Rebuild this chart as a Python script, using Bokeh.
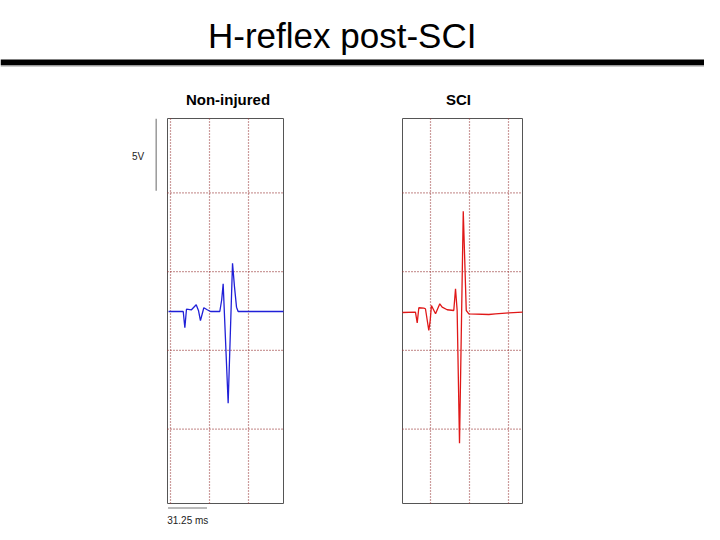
from bokeh.plotting import figure
from bokeh.models import Range1d
from bokeh.core.properties import value
from bokeh.embed import file_html
from bokeh.resources import INLINE

# ---------------- data ----------------
title_text = "H-reflex post-SCI"
panel_titles = ["Non-injured", "SCI"]
scale_v_label = "5V"
scale_t_label = "31.25 ms"
scale_v = 5.0       # volts
scale_t = 31.25     # ms

noninjured_t = [-1.6, 10.2, 11.5, 12.8, 16.8, 20.6, 22.4, 24.0, 26.7, 29.4, 32.1,
                39.5, 41.0, 42.2, 46.2, 49.7, 51.3, 52.9, 54.2, 90.5]
noninjured_v = [0.0, 0.0, -1.13, 0.16, 0.12, 0.47, 0.07, -0.63, 0.26, 0.12, 0.0,
                0.0, 0.8, 1.92, -6.37, 3.35, 1.69, 0.30, 0.0, 0.0]

sci_t = [8.8, 19.2, 20.6, 21.9, 25.9, 27.2, 29.9, 31.0, 32.0, 35.3, 38.7, 40.6,
         44.6, 49.9, 51.3, 52.6, 54.5, 57.5, 59.9, 62.0, 78.0, 83.3, 94.0, 105.0]
sci_v = [0.0, 0.02, -0.72, 0.33, 0.30, 0.26, -1.25, -0.56, 0.49, -0.09, 0.60, 0.37,
         0.19, 0.14, 1.65, 0.14, -9.08, 7.03, 0.14, -0.09, -0.14, -0.09, -0.02, 0.02]

grid_t_left = [0.0, 31.25, 62.5]
grid_t_right = [31.25, 62.5, 93.75]

# ---------------- layout (picture pixels) ----------------
W, H = 704, 524
PX_PER_MS = 39 / 31.25
PX_PER_V = 72 / 5.0
DIV_PX = 78.7

LEFT = dict(x0=167, x1=283, y0=118, y1=503, tpx=170, tval=0.0, vpx=311)
RIGHT = dict(x0=402, x1=522, y0=118, y1=503, tpx=430, tval=31.25, vpx=312)

def t_of(px, g):
    return (px - g["tpx"]) / PX_PER_MS + g["tval"]

def v_of(py, g):
    return (g["vpx"] - py) / PX_PER_V

p = figure(width=W, height=H, output_backend="svg", toolbar_location=None,
           x_range=Range1d(0, W), y_range=Range1d(H, 0),
           x_axis_type=None, y_axis_type=None, min_border=0,
           outline_line_color=None, background_fill_color="white")
p.xgrid.visible = False
p.ygrid.visible = False

for name, g in (("L", LEFT), ("R", RIGHT)):
    p.extra_x_ranges["t" + name] = Range1d(t_of(0, g), t_of(W, g))
    p.extra_y_ranges["v" + name] = Range1d(v_of(H, g), v_of(0, g))

# title and rule
FONT = value("Liberation Sans")
p.text(x=[341.7], y=[35], text=[title_text], text_font=FONT, text_font_size="35px",
       text_align="center", text_baseline="alphabetic", text_color="black")
p.quad(left=[0], right=[W], top=[59], bottom=[64.5], fill_color="black", line_color=None)
p.segment(x0=[0], x1=[W], y0=[65.3], y1=[65.3], line_color="#999999", line_width=1.5)

# panel titles
p.text(x=[227.5, 458], y=[99, 99], text=panel_titles, text_font=FONT, text_font_size="15px",
       text_font_style="bold", text_align="center", text_baseline="alphabetic", text_color="black")

GRID_COLOR = "#9a3b3b"
for name, g, gt in (("L", LEFT, grid_t_left), ("R", RIGHT, grid_t_right)):
    # frame
    p.quad(left=[g["x0"]], right=[g["x1"]], top=[g["y0"]], bottom=[g["y1"]],
           fill_color=None, line_color="#555555", line_width=1)
    # horizontal dotted grid
    c = (g["y0"] + g["y1"]) / 2
    ys = [c - 1.5 * DIV_PX, c - 0.5 * DIV_PX, c + 0.5 * DIV_PX, c + 1.5 * DIV_PX]
    p.segment(x0=[g["x0"]] * 4, x1=[g["x1"]] * 4, y0=ys, y1=ys,
              line_color=GRID_COLOR, line_dash="1 2", line_width=1.2)
    # vertical dotted grid (time divisions)
    vb, vt = v_of(g["y1"], g), v_of(g["y0"], g)
    p.segment(x0=gt, x1=gt, y0=[vb] * len(gt), y1=[vt] * len(gt),
              x_range_name="t" + name, y_range_name="v" + name,
              line_color=GRID_COLOR, line_dash="1 2", line_width=1.2)

# traces
p.line(x=noninjured_t, y=noninjured_v, x_range_name="tL", y_range_name="vL",
       line_color="#2020d8", line_width=1.3)
p.line(x=sci_t, y=sci_v, x_range_name="tR", y_range_name="vR",
       line_color="#e01818", line_width=1.3)

# scale bars (left panel units)
bar_v_top = v_of(118.3, LEFT)
bar_v_t = t_of(155.7, LEFT)
p.segment(x0=[bar_v_t], x1=[bar_v_t], y0=[bar_v_top], y1=[bar_v_top - scale_v],
          x_range_name="tL", y_range_name="vL", line_color="#999999", line_width=1.5)
bar_t_v = v_of(507.5, LEFT)
bar_t_start = t_of(167.5, LEFT)
p.segment(x0=[bar_t_start], x1=[bar_t_start + scale_t], y0=[bar_t_v], y1=[bar_t_v],
          x_range_name="tL", y_range_name="vL", line_color="#777777", line_width=1.2)

p.text(x=[137.5], y=[156], text=[scale_v_label], text_font=FONT, text_font_size="10px",
       text_align="center", text_baseline="alphabetic", text_color="#222222")
p.text(x=[166.7], y=[519.5], text=[scale_t_label], text_font=FONT, text_font_size="10px",
       text_align="left", text_baseline="alphabetic", text_color="#222222")

open("out.html", "w").write(file_html(p, INLINE))
